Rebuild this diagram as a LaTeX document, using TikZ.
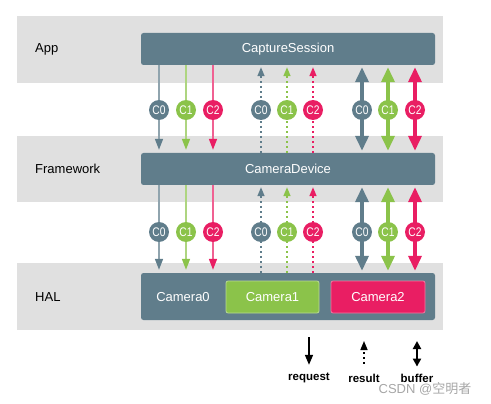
\documentclass[tikz,border=0pt]{standalone}
\usepackage{fontspec}
\setmainfont{Liberation Sans}
\newfontfamily\cjkfont{Noto Sans CJK SC}
\usetikzlibrary{arrows.meta,calc}
\definecolor{slate}{HTML}{607D8B}
\definecolor{lime}{HTML}{8BC34A}
\definecolor{rose}{HTML}{E91E63}
\definecolor{band}{HTML}{E0E0E0}
\tikzset{
  bandbox/.style={fill=band, draw=none, inner sep=0, minimum width=426pt},
  mainbox/.style={fill=slate, draw=none, rounded corners=2.5pt, text=white, font=\fontsize{13}{13}\selectfont, inner sep=0},
  subbox/.style={fill=#1, draw=#1!60!white, line width=0.8pt, rounded corners=2pt, text=white, font=\fontsize{13}{13}\selectfont, inner sep=0, minimum height=32pt},
  layerlabel/.style={anchor=west, font=\fontsize{13}{13}\selectfont, inner sep=0},
  circ/.style={circle, fill=#1, minimum size=20pt, inner sep=0, text=white, font=\fontsize{12.5}{12.5}\selectfont},
  req/.style={line width=1.5pt, draw=#1!70!white, -{Triangle[width=8pt,length=11pt,color=#1]}, shorten >=3pt},
  res/.style={line width=1.5pt, draw=#1, dash pattern=on 2pt off 3pt, -{Triangle[width=7pt,length=9pt]}, shorten >=2pt},
  buf/.style={line width=3.5pt, draw=#1, {Triangle[width=13pt,length=15pt]}-{Triangle[width=13pt,length=15pt]}, shorten >=2pt, shorten <=2pt},
  legend/.style={font=\bfseries\fontsize{11.5}{11.5}\selectfont, inner sep=0},
}
\newcommand{\narrowlab}[1]{\scalebox{0.82}[1]{#1}}
\begin{document}
\begin{tikzpicture}[x=1pt,y=-1pt]
\useasboundingbox (0,0) rectangle (491,404);
% bands
\node[bandbox, minimum height=67pt] (bapp) at (230,49.5) {};
\node[bandbox, minimum height=66pt] (bfw) at (230,169) {};
\node[bandbox, minimum height=67pt] (bhal) at (230,296.5) {};
% layer labels
\node[layerlabel] (lapp) at (35,49) {App};
\node[layerlabel] (lfw) at (35,169) {Framework};
\node[layerlabel] (lhal) at (35,297) {HAL};
% main boxes
\node[mainbox, minimum width=294pt, minimum height=32pt] (cs) at (288,49) {CaptureSession};
\node[mainbox, minimum width=294pt, minimum height=32pt] (cd) at (288,169) {CameraDevice};
\node[mainbox, minimum width=294pt, minimum height=47pt] (hal) at (288,296.5) {};
\node[text=white, font=\fontsize{13}{13}\selectfont, inner sep=0] (cam0) at (183,297) {Camera0};
\node[subbox=lime, minimum width=93pt] (cam1) at (272.5,297) {Camera1};
\node[subbox=rose, minimum width=94pt] (cam2) at (378,297) {Camera2};
% columns and rows
\coordinate (a0) at (159,0); \coordinate (a1) at (186,0); \coordinate (a2) at (213,0);
\coordinate (b0) at (261,0); \coordinate (b1) at (287,0); \coordinate (b2) at (313,0);
\coordinate (d0) at (362,0); \coordinate (d1) at (388,0); \coordinate (d2) at (415,0);
\coordinate (r1) at (0,110); \coordinate (r2) at (0,232);
% layers
\foreach \c/\col/\lab in {0/slate/C0,1/lime/C1,2/rose/C2}{
  \draw[req=\col] (cs.south -| a\c) -- (cd.north -| a\c);
  \node[circ=\col] (qa\c) at (a\c |- r1) {\narrowlab{\lab}};
  \draw[res=\col] (cd.north -| b\c) -- (cs.south -| b\c);
  \node[circ=\col] (sa\c) at (b\c |- r1) {\narrowlab{\lab}};
  \draw[buf=\col] (cs.south -| d\c) -- (cd.north -| d\c);
  \node[circ=\col] (fa\c) at (d\c |- r1) {\narrowlab{\lab}};
  \draw[req=\col] (cd.south -| a\c) -- (hal.north -| a\c);
  \node[circ=\col] (qb\c) at (a\c |- r2) {\narrowlab{\lab}};
  \draw[res=\col] (hal.north -| b\c) -- (cd.south -| b\c);
  \node[circ=\col] (sb\c) at (b\c |- r2) {\narrowlab{\lab}};
  \draw[buf=\col] (cd.south -| d\c) -- (hal.north -| d\c);
  \node[circ=\col] (fb\c) at (d\c |- r2) {\narrowlab{\lab}};
}
% legend
\node[legend] (lreq) at (309,378) {request};
\node[legend] (lres) at (364,378) {result};
\node[legend] (lbuf) at (417,378) {buffer};
\coordinate (lreqtop) at (309,337);
\coordinate (lrestop) at (364,341);
\coordinate (lbuftop) at (417,341);
\draw[line width=1.5pt, -{Triangle[width=8pt,length=10pt]}] (lreqtop) -- ($(lreq.north)+(0,-8)$);
\draw[line width=1.5pt, dash pattern=on 2pt off 3pt, -{Triangle[width=7pt,length=9pt]}] ($(lres.north)+(0,-10)$) -- (lrestop);
\draw[line width=2.5pt, {Triangle[width=8pt,length=8pt]}-{Triangle[width=8pt,length=8pt]}] (lbuftop) -- ($(lbuf.north)+(0,-7)$);
% watermark
\node[text=black!35, font=\fontsize{13}{13}\selectfont, inner sep=0] (wm) at (425,389) {CSDN @{\cjkfont 空明者}};
\end{tikzpicture}
\end{document}
